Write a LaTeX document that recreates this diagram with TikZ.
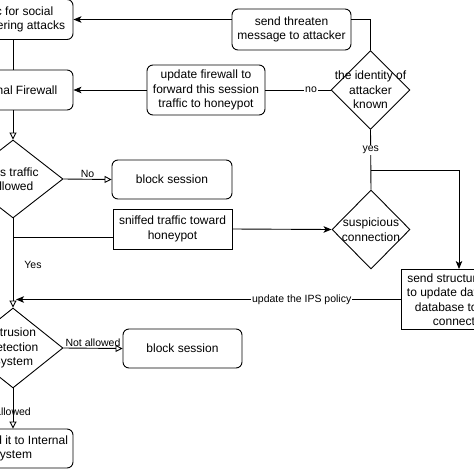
\documentclass[tikz,border=0pt]{standalone}
\usepackage{fontspec}
\setmainfont{Liberation Sans}
\usetikzlibrary{arrows.meta,shapes.geometric,calc}
\begin{document}
\begin{tikzpicture}[x=1pt,y=-1pt,
  line width=0.9pt,
  every node/.style={font=\fontsize{12}{14.5}\selectfont},
  rbox/.style={draw, rounded corners=6pt, align=center, inner sep=0pt, minimum width=120pt, minimum height=40pt},
  sbox/.style={draw, align=center, inner sep=0pt, minimum width=120pt, minimum height=40pt},
  dia/.style={draw, diamond, inner sep=0pt},
  lbl/.style={font=\fontsize{10.5}{12}\selectfont, inner sep=1pt},
  fa/.style={-{Stealth[length=8pt,width=6.5pt,inset=2pt]}},
  oa/.style={-{Triangle[open,length=7pt,width=7pt,fill=white]}}
]
\useasboundingbox (0,0) rectangle (474,474);
\fill[white] (0,0) rectangle (474,474);

\node[rbox] (topbox) at (13,19.5) {traffic for social\\engineering attacks};
\node[rbox] (fw) at (13,90) {External Firewall};
\node[rbox, minimum width=119pt, minimum height=41pt] (thre) at (291.5,29.5) {send threaten\\message to attacker};
\node[dia, minimum width=79pt, minimum height=79pt, label={[align=center]center:the identity of\\attacker\\known}] (idk) at (370.5,90) {};
\node[rbox, minimum width=118pt, minimum height=50pt] (upd) at (206,90) {update firewall to\\forward this session\\traffic to honeypot};
\node[dia, minimum width=100pt, minimum height=78pt, label={[align=center]center:this traffic\\allowed}] (isa) at (13,179) {};
\node[rbox, minimum height=39pt] (blk1) at (172,179.5) {block session};
\node[sbox, minimum width=119pt] (snf) at (172.5,229) {sniffed traffic toward\\honeypot};
\node[dia, minimum width=78pt, minimum height=79pt, label={[align=center]center:suspicious\\connection}] (sus) at (371,229.5) {};
\node[sbox, minimum width=122pt, minimum height=60pt] (ss) at (462,299.5) {send structured data\\to update data of the\\database to block\\connection};
\node[dia, minimum width=100pt, minimum height=80pt, label={[align=center]center:Intrusion\\Detection\\System}] (ids) at (13,348) {};
\node[rbox, minimum width=119pt, minimum height=39pt] (blk2) at (182.5,348.5) {block session};
\node[rbox, minimum height=39pt] (fwd) at (13,448.5) {Forward it to Internal\\system};

\draw[fa] (thre.west |- topbox.east) -- (topbox.east);
\draw (idk.north) |- (thre.east |- topbox.east);
\draw (idk.west) -- node[lbl, fill=white, pos=0.3] (lno) {no} (upd.east);
\draw[fa] (upd.west) -- (fw.east);
\draw (topbox.south) -- (fw.north);
\draw[oa] (fw.south) -- (isa.north);
\draw[oa] (isa.east) -- node[lbl, above] (lNo) {No} (blk1.west);
\draw[oa] (isa.south) -- node[lbl, right, pos=0.52, xshift=10pt] (lYes) {Yes} (ids.north);
\coordinate (sj) at (13,237);
\draw (sj) -- (sj -| snf.west);
\draw[fa] (snf.east) -- (sus.west);
\draw (idk.south) -- node[lbl, fill=white, pos=0.34] (lyes) {yes} (sus.north);
\coordinate (yj) at (371,170);
\coordinate (yr) at (459,170);
\draw (yj) -- (yr);
\draw[fa] (yr) -- (yr |- ss.north);
\draw[fa] (ss.west) -- node[lbl, fill=white, pos=0.257] (lips) {update the IPS policy} ($(ss.west -| ids.north)+(3,0)$);
\draw[oa] (ids.east) -- node[lbl, above] (lna) {Not allowed} (blk2.west);
\draw[oa] (ids.south) -- node[lbl, pos=0.585] (lal) {allowed} (fwd.north);
\end{tikzpicture}
\end{document}
